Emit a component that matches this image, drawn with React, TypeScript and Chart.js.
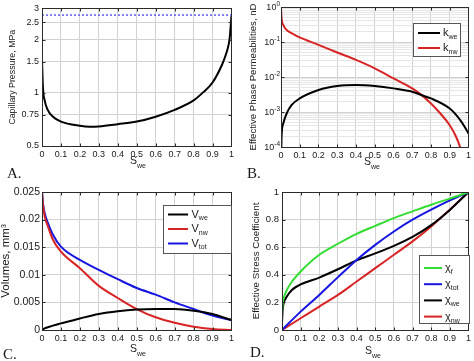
import React, { useEffect, useRef } from "react";
import { Chart, registerables } from "chart.js";

Chart.register(...registerables);

const SANS = "'Liberation Sans', Arial, Helvetica, sans-serif";
const SERIF = "'Liberation Serif', 'Times New Roman', serif";
const TEXT = "#1a1a1a";
const GRID = "#d2d2d2";
const GRID_MINOR = "#e6e6e6";
const FRAME = "#2b2b2b";

const BLACK = "#000000";
const RED = "#d82424";
const BLUE = "#1616e0";
const GREEN = "#33dd33";
const DOTTED_BLUE = "#5c5cf0";

const X_TICKS = [0, 0.1, 0.2, 0.3, 0.4, 0.5, 0.6, 0.7, 0.8, 0.9, 1];

// ---------- Panel A: capillary pressure ----------
const A_SWE = [0, 0.005, 0.014, 0.03, 0.058, 0.1, 0.2, 0.25, 0.3, 0.4, 0.5, 0.6, 0.7, 0.8, 0.85, 0.9, 0.95, 0.97, 0.98, 0.99, 1];
const A_PC = [1.54, 1.07, 0.905, 0.8, 0.732, 0.687, 0.65, 0.642, 0.645, 0.664, 0.687, 0.732, 0.8, 0.905, 1.005, 1.143, 1.44, 1.64, 1.78, 2.02, 2.72];
const A_LIMIT_SWE = [0, 1];
const A_LIMIT_PC = [2.75, 2.75];
const A_Y_TICKS = [0.5, 0.75, 1, 1.5, 2, 2.5, 3];

// ---------- Panel B: effective phase permeabilities ----------
const B_SWE_WE = [0.002, 0.003, 0.012, 0.03, 0.056, 0.1, 0.2, 0.3, 0.4, 0.5, 0.6, 0.7, 0.76, 0.8, 0.9, 0.95, 0.98, 1];
const B_K_WE = [1e-4, 1.94e-4, 4.68e-4, 9.06e-4, 1.57e-3, 2.44e-3, 4.24e-3, 5.52e-3, 5.9e-3, 5.52e-3, 4.73e-3, 3.8e-3, 2.9e-3, 2.44e-3, 1.26e-3, 6.5e-4, 3.75e-4, 2.4e-4];
const B_SWE_NW = [0, 0.003, 0.012, 0.03, 0.056, 0.1, 0.2, 0.3, 0.4, 0.5, 0.6, 0.7, 0.75, 0.8, 0.85, 0.9, 0.93, 0.955, 0.97];
const B_K_NW = [1.0, 0.48, 0.31, 0.22, 0.18, 0.135, 0.083, 0.05, 0.0308, 0.0177, 0.00916, 0.00473, 0.00304, 0.00175, 9.06e-4, 4.19e-4, 2.16e-4, 1.0e-4, 5e-5];
const B_DECADES = [-4, -3, -2, -1, 0];
const B_MINOR_STEPS = [2, 3, 4, 5, 6, 7, 8, 9];

// ---------- Panel C: volumes ----------
const C_SWE = [0, 0.005, 0.014, 0.031, 0.057, 0.1, 0.2, 0.3, 0.4, 0.5, 0.6, 0.7, 0.8, 0.9, 1];
const C_V_WE = [0, 0.0001, 0.0003, 0.0005, 0.0008, 0.0012, 0.0021, 0.0029, 0.0034, 0.0037, 0.0038, 0.0038, 0.0035, 0.0029, 0.0018];
const C_V_NW = [0.025, 0.0227, 0.0206, 0.0188, 0.0164, 0.0142, 0.0112, 0.008, 0.0058, 0.0038, 0.0023, 0.0013, 0.0006, 0.0002, 0];
const C_V_TOT = [0.025, 0.023, 0.0212, 0.0194, 0.0173, 0.0151, 0.0127, 0.0109, 0.0092, 0.0076, 0.0064, 0.005, 0.0038, 0.0026, 0.0018];
const C_Y_TICKS = [0, 0.005, 0.01, 0.015, 0.02, 0.025];

// ---------- Panel D: effective stress coefficients ----------
const D_SWE = [0, 0.0035, 0.009, 0.026, 0.053, 0.1, 0.2, 0.3, 0.4, 0.5, 0.6, 0.7, 0.8, 0.9, 1];
const D_CHI_F = [0.12, 0.19, 0.23, 0.29, 0.35, 0.424, 0.545, 0.625, 0.697, 0.755, 0.811, 0.86, 0.908, 0.952, 1];
const D_CHI_WE = [0.05, 0.145, 0.194, 0.242, 0.29, 0.33, 0.38, 0.44, 0.505, 0.555, 0.61, 0.675, 0.76, 0.87, 1];
const D_SWE_LIN = [0, 0.1, 0.2, 0.3, 0.4, 0.5, 0.6, 0.7, 0.8, 0.9, 1];
const D_CHI_TOT = [0, 0.133, 0.254, 0.383, 0.508, 0.617, 0.714, 0.799, 0.872, 0.939, 1];
const D_CHI_NW = [0, 0.085, 0.17, 0.254, 0.351, 0.448, 0.545, 0.642, 0.75, 0.872, 1];
const D_Y_TICKS = [0, 0.2, 0.4, 0.6, 0.8, 1];

type Series = { xs: number[]; ys: number[]; color: string; width?: number; dash?: number[]; label: string };
type LegendItem = { base: string; sub: string };
type Spec = {
  key: string;
  left: number; top: number; w: number; h: number;
  area: { l: number; t: number; r: number; b: number };
  series: Series[];
  yType: "linear" | "logarithmic";
  yMin: number; yMax: number;
  yGrid: { v: number; major: boolean }[];
  yLabelsByChart: boolean;
  xTickSize: number; yTickSize: number; yTickPad: number;
  yTitle: string; yTitleX: number; yTitleSize: number;
  xTitleX: number; xTitleY: number;
  letter: string; letterX: number; letterY: number;
  legend?: { x: number; y: number; w: number; h: number; first: number; step: number; l0: number; l1: number; tx: number; items: LegendItem[] };
  supLabels?: { v: number; exp: string }[];
};

const font = (size: number, fam = SANS) => `${size}px ${fam}`;

function drawScripted(ctx: CanvasRenderingContext2D, base: string, script: string, x: number, y: number, size: number, sSize: number, shift: number, align: "left" | "center" | "right") {
  ctx.font = font(size);
  const wb = ctx.measureText(base).width;
  ctx.font = font(sSize);
  const ws = ctx.measureText(script).width;
  const total = wb + ws;
  let x0 = x;
  if (align === "center") x0 = x - total / 2;
  if (align === "right") x0 = x - total;
  ctx.textAlign = "left";
  ctx.textBaseline = "middle";
  ctx.font = font(size);
  ctx.fillText(base, x0, y);
  ctx.font = font(sSize);
  ctx.fillText(script, x0 + wb, y + shift);
}

function overlay(p: Spec) {
  return {
    id: "overlay" + p.key,
    afterDraw(chart: any) {
      const ctx: CanvasRenderingContext2D = chart.ctx;
      const a = chart.chartArea;
      const xs = chart.scales.x;
      const ys = chart.scales.y;
      ctx.save();
      const L = Math.round(a.left) + 0.5;
      const R = Math.round(a.right) + 0.5;
      const T = Math.round(a.top) + 0.5;
      const B = Math.round(a.bottom) + 0.5;
      ctx.strokeStyle = FRAME;
      ctx.lineWidth = 1;
      ctx.beginPath();
      X_TICKS.forEach((v) => {
        const px = Math.round(xs.getPixelForValue(v)) + 0.5;
        ctx.moveTo(px, B); ctx.lineTo(px, B - 3);
        ctx.moveTo(px, T); ctx.lineTo(px, T + 3);
      });
      p.yGrid.filter((g) => g.major).forEach((g) => {
        const py = Math.round(ys.getPixelForValue(g.v)) + 0.5;
        ctx.moveTo(L, py); ctx.lineTo(L + 3, py);
        ctx.moveTo(R, py); ctx.lineTo(R - 3, py);
      });
      ctx.stroke();
      ctx.strokeRect(L, T, R - L, B - T);

      ctx.fillStyle = TEXT;
      if (p.supLabels) {
        p.supLabels.forEach((s) => {
          const py = ys.getPixelForValue(s.v);
          drawScripted(ctx, "10", s.exp, a.left - 1, py + 1, 9, 6.5, -4, "right");
        });
      }
      // y title
      ctx.save();
      ctx.translate(p.yTitleX, (a.top + a.bottom) / 2);
      ctx.rotate(-Math.PI / 2);
      ctx.font = font(p.yTitleSize);
      ctx.textAlign = "center";
      ctx.textBaseline = "middle";
      ctx.fillText(p.yTitle, 0, 0);
      ctx.restore();
      // x title
      drawScripted(ctx, "S", "we", p.xTitleX, p.xTitleY, 10.5, 7, 5, "center");
      // panel letter
      ctx.font = font(15, SERIF);
      ctx.textAlign = "left";
      ctx.textBaseline = "alphabetic";
      ctx.fillText(p.letter, p.letterX, p.letterY);
      // legend
      if (p.legend) {
        const lg = p.legend;
        ctx.fillStyle = "#ffffff";
        ctx.fillRect(lg.x, lg.y, lg.w, lg.h);
        ctx.strokeStyle = "#555555";
        ctx.lineWidth = 1;
        ctx.strokeRect(lg.x + 0.5, lg.y + 0.5, lg.w, lg.h);
        lg.items.forEach((it, i) => {
          const y = lg.y + lg.first + i * lg.step;
          ctx.strokeStyle = p.series[i].color;
          ctx.lineWidth = 2;
          ctx.beginPath();
          ctx.moveTo(lg.x + lg.l0, y);
          ctx.lineTo(lg.x + lg.l1, y);
          ctx.stroke();
          ctx.fillStyle = TEXT;
          drawScripted(ctx, it.base, it.sub, lg.x + lg.tx, y, 11, 7, 4, "left");
        });
      }
      ctx.restore();
    },
  };
}

function makeConfig(p: Spec): any {
  return {
    type: "line",
    data: {
      datasets: p.series.map((s) => ({
        label: s.label,
        data: s.xs.map((x, i) => ({ x, y: s.ys[i] })),
        borderColor: s.color,
        backgroundColor: s.color,
        borderWidth: s.width ?? 2,
        borderDash: s.dash ?? [],
        pointRadius: 0,
        fill: false,
        cubicInterpolationMode: s.dash ? "default" : "monotone",
      })),
    },
    options: {
      animation: false,
      responsive: false,
      maintainAspectRatio: false,
      events: [],
      layout: { autoPadding: false, padding: { left: 0, top: p.area.t, right: p.w - p.area.r, bottom: 0 } },
      plugins: { legend: { display: false }, tooltip: { enabled: false }, title: { display: false } },
      scales: {
        x: {
          type: "linear",
          min: 0,
          max: 1,
          afterBuildTicks: (s: any) => { s.ticks = X_TICKS.map((v) => ({ value: v })); },
          afterFit: (s: any) => { s.height = p.h - p.area.b; },
          ticks: { autoSkip: false, maxRotation: 0, minRotation: 0, padding: 3, color: TEXT, font: { family: SANS, size: p.xTickSize }, callback: (v: any) => String(v) },
          grid: { display: true, drawOnChartArea: true, color: GRID, lineWidth: 1, drawTicks: false },
          border: { display: false },
        },
        y: {
          type: p.yType,
          min: p.yMin,
          max: p.yMax,
          afterBuildTicks: (s: any) => { s.ticks = p.yGrid.map((g) => ({ value: g.v, major: g.major })); },
          afterFit: (s: any) => { s.width = p.area.l; },
          ticks: {
            display: p.yLabelsByChart,
            autoSkip: false,
            padding: p.yTickPad,
            color: TEXT,
            font: { family: SANS, size: p.yTickSize },
            callback: (v: any) => String(v),
          },
          grid: { display: true, drawOnChartArea: true, color: (c: any) => (c.tick && c.tick.major === false ? GRID_MINOR : GRID), lineWidth: 1, drawTicks: false },
          border: { display: false },
        },
      },
    },
    plugins: [overlay(p)],
  };
}

const majors = (arr: number[]) => arr.map((v) => ({ v, major: true }));

const B_GRID = (() => {
  const g: { v: number; major: boolean }[] = [];
  B_DECADES.forEach((d) => {
    g.push({ v: Math.pow(10, d), major: true });
    if (d < 0) B_MINOR_STEPS.forEach((m) => g.push({ v: m * Math.pow(10, d), major: false }));
  });
  return g;
})();

const SPECS: Spec[] = [
  {
    key: "A", left: 0, top: 0, w: 237, h: 180,
    area: { l: 42, t: 6, r: 233, b: 146 },
    series: [
      { xs: A_LIMIT_SWE, ys: A_LIMIT_PC, color: DOTTED_BLUE, width: 1.5, dash: [2, 2], label: "limit" },
      { xs: A_SWE, ys: A_PC, color: BLACK, label: "Pc" },
    ],
    yType: "logarithmic", yMin: 0.5, yMax: 3, yGrid: majors(A_Y_TICKS), yLabelsByChart: true,
    xTickSize: 9, yTickSize: 9, yTickPad: 3,
    yTitle: "Capillary Pressure, MPa", yTitleX: 12.5, yTitleSize: 8.8,
    xTitleX: 138, xTitleY: 161,
    letter: "A.", letterX: 7, letterY: 178,
  },
  {
    key: "B", left: 237, top: 0, w: 237, h: 180,
    area: { l: 44, t: 7, r: 236, b: 147 },
    series: [
      { xs: B_SWE_WE, ys: B_K_WE, color: BLACK, label: "k_we" },
      { xs: B_SWE_NW, ys: B_K_NW, color: RED, label: "k_nw" },
    ],
    yType: "logarithmic", yMin: 1e-4, yMax: 1, yGrid: B_GRID, yLabelsByChart: false,
    xTickSize: 9, yTickSize: 9, yTickPad: 3,
    supLabels: B_DECADES.map((d) => ({ v: Math.pow(10, d), exp: d === 0 ? "0" : "-" + Math.abs(d) })),
    yTitle: "Effective Phase Permeabilities, nD", yTitleX: 16, yTitleSize: 9.6,
    xTitleX: 135, xTitleY: 162,
    letter: "B.", letterX: 10, letterY: 178,
    legend: { x: 176, y: 23, w: 47, h: 33, first: 10, step: 15, l0: 5, l1: 27, tx: 30, items: [{ base: "k", sub: "we" }, { base: "k", sub: "nw" }] },
  },
  {
    key: "C", left: 0, top: 180, w: 237, h: 181,
    area: { l: 42, t: 12, r: 236, b: 150 },
    series: [
      { xs: C_SWE, ys: C_V_WE, color: BLACK, label: "V_we" },
      { xs: C_SWE, ys: C_V_NW, color: RED, label: "V_nw" },
      { xs: C_SWE, ys: C_V_TOT, color: BLUE, label: "V_tot" },
    ],
    yType: "linear", yMin: 0, yMax: 0.025, yGrid: majors(C_Y_TICKS), yLabelsByChart: true,
    xTickSize: 9, yTickSize: 10.5, yTickPad: 2,
    yTitle: "Volumes, mm\u00B3", yTitleX: 6, yTitleSize: 11.5,
    xTitleX: 138, xTitleY: 169,
    letter: "C.", letterX: 3, letterY: 179,
    legend: { x: 163, y: 25, w: 68, h: 48, first: 9.5, step: 14.5, l0: 5, l1: 25, tx: 28.5, items: [{ base: "V", sub: "we" }, { base: "V", sub: "nw" }, { base: "V", sub: "tot" }] },
  },
  {
    key: "D", left: 237, top: 180, w: 237, h: 181,
    area: { l: 45, t: 12, r: 235, b: 150 },
    series: [
      { xs: D_SWE, ys: D_CHI_F, color: GREEN, label: "chi_f" },
      { xs: D_SWE_LIN, ys: D_CHI_TOT, color: BLUE, label: "chi_tot" },
      { xs: D_SWE, ys: D_CHI_WE, color: BLACK, label: "chi_we" },
      { xs: D_SWE_LIN, ys: D_CHI_NW, color: RED, label: "chi_nw" },
    ],
    yType: "linear", yMin: 0, yMax: 1, yGrid: majors(D_Y_TICKS), yLabelsByChart: true,
    xTickSize: 9, yTickSize: 9.5, yTickPad: 3,
    yTitle: "Effective Stress Coefficient", yTitleX: 19, yTitleSize: 9.8,
    xTitleX: 136, xTitleY: 171,
    letter: "D.", letterX: 13, letterY: 177,
    legend: { x: 182, y: 75, w: 50, h: 68, first: 13, step: 16.2, l0: 5, l1: 23, tx: 26, items: [{ base: "\u03C7", sub: "f" }, { base: "\u03C7", sub: "tot" }, { base: "\u03C7", sub: "we" }, { base: "\u03C7", sub: "nw" }] },
  },
];

function Panel({ spec }: { spec: Spec }) {
  const ref = useRef<HTMLCanvasElement>(null);
  useEffect(() => {
    const chart = new Chart(ref.current as HTMLCanvasElement, makeConfig(spec));
    return () => chart.destroy();
  }, [spec]);
  return (
    <canvas
      ref={ref}
      width={spec.w}
      height={spec.h}
      style={{ position: "absolute", left: spec.left, top: spec.top, width: spec.w, height: spec.h }}
    />
  );
}

export default function App() {
  return (
    <div style={{ position: "fixed", left: 0, top: 0, width: 474, height: 361, background: "#ffffff", overflow: "hidden" }}>
      {SPECS.map((s) => (
        <Panel key={s.key} spec={s} />
      ))}
    </div>
  );
}
